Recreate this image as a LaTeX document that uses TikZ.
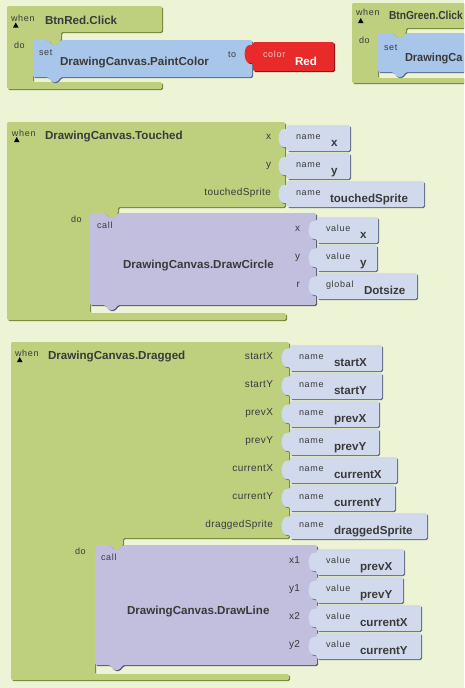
\documentclass[tikz,border=0pt]{standalone}
\usepackage{fontspec}
\setmainfont{Liberation Sans}
\newfontfamily\smf[LetterSpace=8]{Liberation Sans}
\newfontfamily\lbf[LetterSpace=4]{Liberation Sans}
\definecolor{bgc}{RGB}{237,244,213}
\definecolor{grn}{RGB}{190,208,126}
\definecolor{grnd}{RGB}{112,132,52}
\definecolor{setc}{RGB}{167,198,234}
\definecolor{setd}{RGB}{86,106,140}
\definecolor{callc}{RGB}{193,191,221}
\definecolor{calld}{RGB}{86,84,112}
\definecolor{valc}{RGB}{209,217,236}
\definecolor{vald}{RGB}{96,106,132}
\definecolor{redc}{RGB}{232,42,42}
\definecolor{redd}{RGB}{140,16,16}
\definecolor{txt}{RGB}{58,58,58}
\definecolor{pinkt}{RGB}{250,196,196}
\tikzset{
 shblk/.style 2 args={fill=#1, preaction={fill=#2, transform canvas={shift={(1,1)}}}, rounded corners=1.4pt},
 gb/.style={shblk={grn}{grnd}},
 setb/.style={shblk={setc}{setd}},
 callb/.style={shblk={callc}{calld}},
 vb/.style={shblk={valc}{vald}},
 redb/.style={shblk={redc}{redd}},
 sm/.style={font=\smf\fontsize{9}{10}\selectfont, text=txt, inner sep=0pt, outer sep=0pt},
 lb/.style={font=\lbf\fontsize{10}{12}\selectfont, text=txt, inner sep=0pt, outer sep=0pt},
 bd/.style={font=\bfseries\fontsize{11.6}{13}\selectfont, text=txt, inner sep=0pt, outer sep=0pt},
 tri/.style={fill=black}
}
% event block: L T R OT CL CT OB BB BR
\newcommand\evblk[9]{%
 \path[gb] (#1,#2) -- (#3,#2) -- (#3,#4) -- (#5+28,#4) -- (#5+28,#6) -- (#5+24,#6+5) -- (#5+19,#6+5) -- (#5+15,#6) -- (#5,#6) -- (#5,#7) -- (#9,#7) -- (#9,#8) -- (#1,#8) -- cycle;}
% statement block: style L T R B
\newcommand\stblk[5]{%
 \path[#1] (#2,#3) -- (#2+15,#3) -- (#2+19,#3+5) -- (#2+24,#3+5) -- (#2+28,#3) -- (#4,#3) -- (#4,#5) -- (#2+28,#5) -- (#2+24,#5+5) -- (#2+19,#5+5) -- (#2+15,#5) -- (#2,#5) -- cycle;}
% value block: name x0 y0 right small bold boldoffset
\newcommand\valblk[7]{%
 \path[vb] (#2,#3) -- (#4,#3) -- (#4,#3+26) -- (#2,#3+26) -- (#2,#3+22) -- (#2-2,#3+22) .. controls (#2-10,#3+22) and (#2-10,#3+4) .. (#2-2,#3+4) -- (#2,#3+4) -- cycle;
 \node[sm,anchor=base west] (#1s) at (#2+9,#3+14) {#5};
 \node[bd,anchor=base west] (#1b) at (#2+#7,#3+21) {#6};}
\newcommand\whentri[3]{\fill[tri] (#1,#3) -- (#2,#3) -- ({(#1+#2)/2},#3-5) -- cycle;}
\begin{document}
\begin{tikzpicture}[x=1pt,y=-1pt]
\useasboundingbox (0,0) rectangle (464,688);
\fill[bgc] (0,0) rectangle (464,688);
\clip (0,0) rectangle (464,688);

% ---------- BtnRed.Click ----------
\evblk{7}{6}{162}{32}{33}{40}{82}{89}{162}
\stblk{setb}{33}{40}{252}{77}
\path[redb] (253,42) -- (334,42) -- (334,71) -- (253,71) -- (253,63) -- (251,63) .. controls (243,63) and (243,45) .. (251,45) -- (253,45) -- cycle;
\node[sm,anchor=base west] (w1) at (11,21) {when};
\whentri{13}{18.5}{27.5}
\node[bd,anchor=base west] (t1) at (45,24.5) {BtnRed.Click};
\node[sm,anchor=base west] (do1) at (14,48) {do};
\node[sm,anchor=base west] (set1) at (39,55) {set};
\node[bd,anchor=base west] (pc1) at (60,65.5) {DrawingCanvas.PaintColor};
\node[sm,anchor=base west] (to1) at (228,57) {to};
\node[sm,anchor=base west,text=pinkt] (col1) at (263,57) {color};
\node[bd,anchor=base west,text=white] (red1) at (295,65) {Red};

% ---------- BtnGreen.Click ----------
\evblk{352}{3}{480}{28}{378}{33}{78}{83}{480}
\stblk{setb}{378}{33}{500}{72}
\node[sm,anchor=base west] (w2) at (356,16) {when};
\whentri{358}{363.5}{23}
\node[bd,anchor=base west] (t2) at (389,19.5) {\scalebox{0.88}[1]{BtnGreen.Click}};
\node[sm,anchor=base west] (do2) at (359,43) {do};
\node[sm,anchor=base west] (set2) at (384,50) {set};
\node[bd,anchor=base west] (pc2) at (405,61.5) {\scalebox{0.95}[1]{DrawingCa}};

% ---------- DrawingCanvas.Touched ----------
\evblk{7}{122}{285}{207}{90}{213}{313}{320}{286}
\valblk{tn1}{287}{125}{350}{name}{x}{44}
\valblk{tn2}{287}{153}{350}{name}{y}{44}
\valblk{tn3}{287}{181}{424}{name}{touchedSprite}{43}
\stblk{callb}{90}{213}{316}{305}
\valblk{cv1}{317}{217}{378}{value}{x}{43}
\valblk{cv2}{317}{245}{377}{value}{y}{43}
\valblk{cv3}{317}{273}{417}{global}{Dotsize}{47}
\node[sm,anchor=base west] (w3) at (12,136) {when};
\whentri{14}{19.5}{142}
\node[bd,anchor=base west] (t3) at (45,139) {DrawingCanvas.Touched};
\node[lb,anchor=base east] (p31) at (271,139) {x};
\node[lb,anchor=base east] (p32) at (271,167) {y};
\node[lb,anchor=base east] (p33) at (271,195) {touchedSprite};
\node[sm,anchor=base west] (do3) at (71,222) {do};
\node[sm,anchor=base west] (call3) at (97,228) {call};
\node[bd,anchor=base west] (dc3) at (123,268) {DrawingCanvas.DrawCircle};
\node[lb,anchor=base east] (q31) at (300,231) {x};
\node[lb,anchor=base east] (q32) at (300,259) {y};
\node[lb,anchor=base east] (q33) at (300,287) {r};

% ---------- DrawingCanvas.Dragged ----------
\evblk{11}{342}{289}{538}{95}{545}{674}{680}{289}
\valblk{dn1}{290}{345}{382}{name}{startX}{44}
\valblk{dn2}{290}{373}{382}{name}{startY}{44}
\valblk{dn3}{290}{401}{379}{name}{prevX}{44}
\valblk{dn4}{290}{429}{379}{name}{prevY}{44}
\valblk{dn5}{290}{457}{397}{name}{currentX}{44}
\valblk{dn6}{290}{485}{395}{name}{currentY}{44}
\valblk{dn7}{290}{513}{427}{name}{draggedSprite}{44}
\stblk{callb}{95}{545}{317}{665}
\valblk{dv1}{317}{549}{404}{value}{prevX}{43}
\valblk{dv2}{317}{577}{403}{value}{prevY}{43}
\valblk{dv3}{317}{605}{421}{value}{currentX}{43}
\valblk{dv4}{317}{633}{421}{value}{currentY}{43}
\node[sm,anchor=base west] (w4) at (15,356) {when};
\whentri{17}{22.5}{362}
\node[bd,anchor=base west] (t4) at (48,359.5) {DrawingCanvas.Dragged};
\node[lb,anchor=base east] (p41) at (273,359) {startX};
\node[lb,anchor=base east] (p42) at (273,387) {startY};
\node[lb,anchor=base east] (p43) at (273,415) {prevX};
\node[lb,anchor=base east] (p44) at (273,443) {prevY};
\node[lb,anchor=base east] (p45) at (273,471) {currentX};
\node[lb,anchor=base east] (p46) at (273,499) {currentY};
\node[lb,anchor=base east] (p47) at (273,527) {draggedSprite};
\node[sm,anchor=base west] (do4) at (75,554) {do};
\node[sm,anchor=base west] (call4) at (101,560) {call};
\node[bd,anchor=base west] (dl4) at (127,614.5) {DrawingCanvas.DrawLine};
\node[lb,anchor=base east] (q41) at (300,563) {x1};
\node[lb,anchor=base east] (q42) at (300,591) {y1};
\node[lb,anchor=base east] (q43) at (300,619) {x2};
\node[lb,anchor=base east] (q44) at (300,647) {y2};
\end{tikzpicture}
\end{document}
